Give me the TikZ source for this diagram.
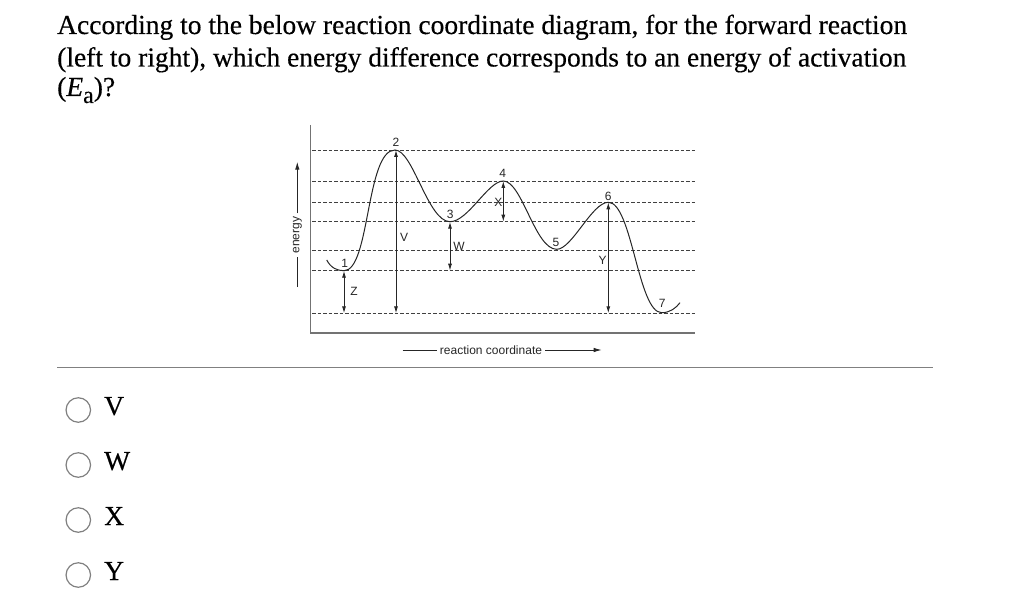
\documentclass[tikz,border=0pt]{standalone}
\usepackage{fontspec}
\setmainfont{Liberation Serif}[FakeBold=0.35]
\newfontfamily\diagfont{Liberation Sans}
\usetikzlibrary{arrows.meta}
\begin{document}
\begin{tikzpicture}[x=1pt,y=-1pt,
  qtext/.style={anchor=base west,inner sep=0pt,font=\fontsize{27.5}{32}\selectfont},
  lvl/.style={draw=black!75,line width=0.9pt,dash pattern=on 3.5pt off 2pt},
  axis/.style={draw=black!55,line width=1.3pt},
  dlab/.style={font=\diagfont\fontsize{12}{14}\selectfont,text=black!85,inner sep=0pt},
  darr/.style={draw=black!85,line width=0.9pt,{Latex[length=7pt,width=4pt]}-{Latex[length=7pt,width=4pt]}},
  sarr/.style={draw=black!85,line width=0.9pt,-{Latex[length=8pt,width=4.5pt]}},
  radio/.style={circle,draw=black!50,line width=1.2pt,minimum size=24.5pt,inner sep=0pt},
  curve/.style={draw=black!85,line width=1pt}
]
\useasboundingbox (0,0) rectangle (1024,612);

% question text
\node[qtext] (q1) at (57,34) {According to the below reaction coordinate diagram, for the forward reaction};
\node[qtext] (q2) at (57,66.5) {(left to right), which energy difference corresponds to an energy of activation};
\node[qtext] (q3) at (57,96) {(\textit{E}\raisebox{-7pt}{\fontsize{24}{24}\selectfont a})?};

% axes
\coordinate (at) at (310.7,125);
\coordinate (ao) at (310.7,333);
\coordinate (ar) at (695,333);
\draw[axis] (at) -- (ao) -- (ar);

% energy levels
\foreach \yy in {150,181,202.3,221.7,250,270.7,313.3}{
  \draw[lvl] (312,\yy) -- (695,\yy);
}

% curve
\coordinate (c0) at (326.7,260);
\coordinate (m1) at (344,270.7);
\coordinate (m2) at (395,150);
\coordinate (m3) at (450,221.7);
\coordinate (m4) at (503.3,181);
\coordinate (m5) at (556.7,249.3);
\coordinate (m6) at (608.3,202.3);
\coordinate (m7) at (661.7,312.7);
\coordinate (c8) at (680,302.7);
\draw[curve] (c0) .. controls (331,268) and (337,270.7) .. (m1)
  .. controls (370,270.7) and (366,150) .. (m2)
  .. controls (413,150) and (428,221.7) .. (m3)
  .. controls (468,221.7) and (488,181) .. (m4)
  .. controls (522,181) and (535,249.3) .. (m5)
  .. controls (572,249.3) and (592,202.3) .. (m6)
  .. controls (632,202.3) and (638,312.7) .. (m7)
  .. controls (670,312.7) and (676,308) .. (c8);

% point labels
\node[dlab] (l1) at (344.7,263.3) {1};
\node[dlab] (l2) at (396,142.7) {2};
\node[dlab] (l3) at (450.3,214.3) {3};
\node[dlab] (l4) at (502.7,173.3) {4};
\node[dlab] (l5) at (556,242.7) {5};
\node[dlab] (l6) at (608.3,196) {6};
\node[dlab] (l7) at (662.3,303.3) {7};

% energy differences
\coordinate (zt) at (344,270.7); \coordinate (zb) at (344,313.3);
\coordinate (vt) at (396,150);   \coordinate (vb) at (396,313.3);
\coordinate (wt) at (450,221.7); \coordinate (wb) at (450,270.7);
\coordinate (xt) at (503.3,181); \coordinate (xb) at (503.3,221.7);
\coordinate (yt) at (608.3,202.3); \coordinate (yb) at (608.3,313.3);
\draw[darr] (zt) -- (zb);
\draw[darr] (vt) -- (vb);
\draw[darr] (wt) -- (wb);
\draw[darr] (xt) -- (xb);
\draw[darr] (yt) -- (yb);
\node[dlab] (lz) at (354,291.7) {Z};
\node[dlab] (lv) at (404,237.3) {V};
\node[dlab] (lw) at (459,246) {W};
\node[dlab] (lx) at (498.3,202.7) {X};
\node[dlab] (ly) at (602.7,260) {Y};

% axis titles
\node[dlab,rotate=90,inner sep=3pt] (en) at (297.3,235) {energy};
\coordinate (eb) at (297.3,287);
\coordinate (et) at (297.3,161.7);
\draw[draw=black!85,line width=0.9pt] (eb) -- (en.west);
\draw[sarr] (en.east) -- (et);
\node[dlab,inner sep=3pt] (rc) at (491,350) {reaction coordinate};
\coordinate (rl) at (402.7,350);
\coordinate (rr) at (601.7,350);
\draw[draw=black!85,line width=0.9pt] (rl) -- (rc.west);
\draw[sarr] (rc.east) -- (rr);

% separator
\coordinate (s1) at (57,367.5);
\coordinate (s2) at (933,367.5);
\draw[draw=black!50,line width=1.3pt] (s1) -- (s2);

% options
\foreach \lab/\yy [count=\i] in {V/410,W/465,X/520,Y/575}{
  \node[radio] (r\i) at (78.3,\yy) {};
  \node[qtext] (o\i) at (104,\yy+5) {\lab};
}
\end{tikzpicture}
\end{document}
